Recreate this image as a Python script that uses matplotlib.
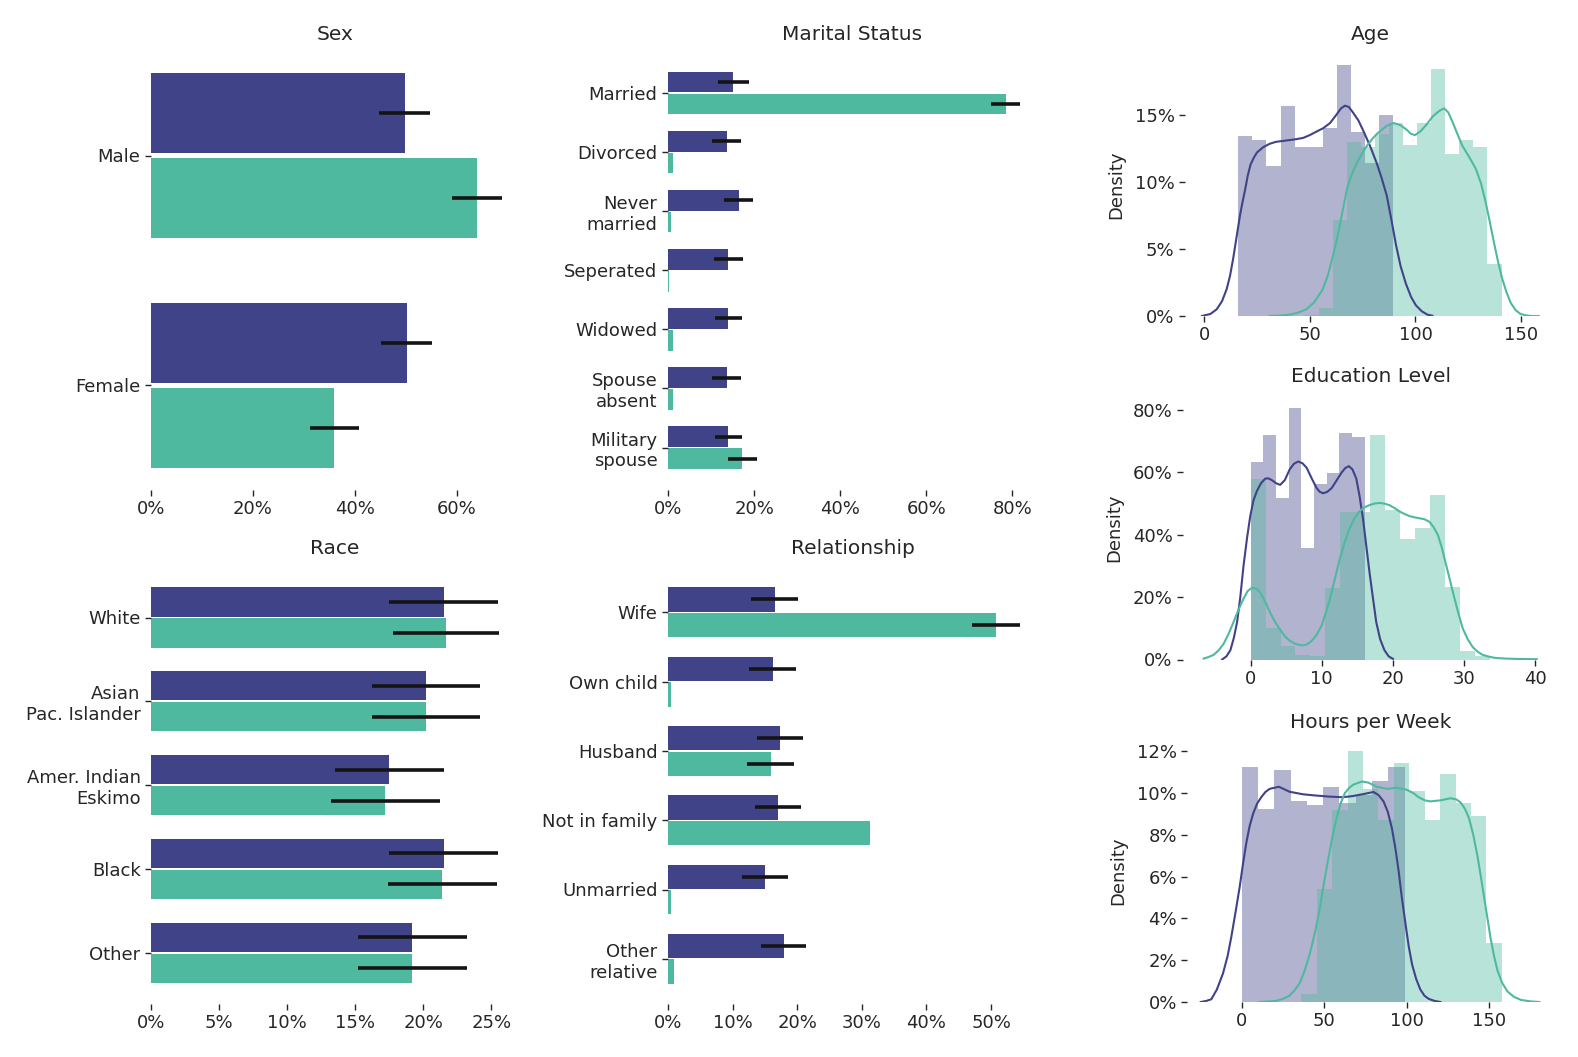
import matplotlib
matplotlib.use('Agg')
import matplotlib.pyplot as plt
from matplotlib.ticker import PercentFormatter
import numpy as np

W, H = 1578, 1057
PURPLE = '#404387'
GREEN = '#4fb99f'
TEXT = '#262626'

# ---------- bar panels (values in %) ----------
sex_labels = ['Male', 'Female']
sex_a = [49.8, 50.2]
sex_a_err = [5.0, 5.0]
sex_b = [64.0, 36.0]
sex_b_err = [4.9, 4.9]

marital_labels = ['Married', 'Divorced', 'Never\nmarried', 'Seperated', 'Widowed',
                  'Spouse\nabsent', 'Military\nspouse']
marital_a = [15.2, 13.6, 16.4, 14.0, 14.0, 13.6, 14.0]
marital_a_err = [3.5, 3.3, 3.3, 3.4, 3.2, 3.3, 3.2]
marital_b = [78.4, 1.2, 0.7, 0.3, 1.2, 1.2, 17.3]
marital_b_err = [3.3, 0, 0, 0, 0, 0, 3.4]

race_labels = ['White', 'Asian\nPac. Islander', 'Amer. Indian\nEskimo', 'Black', 'Other']
race_a = [21.5, 20.2, 17.5, 21.5, 19.2]
race_a_err = [4.0, 4.0, 4.0, 4.0, 4.0]
race_b = [21.7, 20.2, 17.2, 21.4, 19.2]
race_b_err = [3.9, 4.0, 4.0, 4.0, 4.0]

rel_labels = ['Wife', 'Own child', 'Husband', 'Not in family', 'Unmarried', 'Other\nrelative']
rel_a = [16.5, 16.2, 17.3, 17.0, 15.0, 17.9]
rel_a_err = [3.6, 3.6, 3.6, 3.6, 3.6, 3.5]
rel_b = [50.8, 0.4, 15.9, 31.3, 0.4, 0.9]
rel_b_err = [3.7, 0, 3.6, 0, 0, 0]

# ---------- density panels (values in %) ----------
age_a_start, age_a_width = 16.2, 6.67
age_a_hist = [13.4, 13.1, 11.2, 15.7, 12.6, 12.6, 14.0, 18.7, 13.7, 11.4, 15.0]
age_b_start, age_b_width = 47.6, 6.65
age_b_hist = [0.1, 0.6, 7.2, 13.0, 12.6, 13.6, 14.4, 12.8, 14.4, 18.4, 12.1, 13.1, 12.6, 3.9]
age_a_kde_x = [-1, 3, 6, 8.5, 10.7, 12.3, 13.8, 15.4, 17, 18.2, 19.4, 20.7, 22, 23.5, 25, 28,
               31, 34, 39, 43.7, 47, 50, 53, 56.2, 59.6, 62.5, 64.8, 66.7, 68.5, 70.4, 73,
               75.4, 78.5, 81.7, 84, 86.4, 88.6, 90.8, 93, 95.5, 98, 100.2, 103, 105.7, 108]
age_a_kde_y = [0.0, 0.15, 0.5, 1.1, 2.0, 3.0, 4.3, 5.9, 7.5, 8.5, 9.4, 10.5, 11.3, 11.8, 12.2, 12.6,
               12.85, 13.0, 13.1, 13.2, 13.3, 13.5, 13.75, 14.0, 14.4, 15.0, 15.5, 15.7, 15.6, 15.2, 14.6,
               13.8, 12.7, 11.4, 10.3, 9.0, 7.2, 5.3, 3.7, 2.4, 1.4, 0.8, 0.35, 0.1, 0.02]
age_b_kde_x = [31, 36, 40.5, 44.5, 48.4, 52, 56.2, 58.7, 61, 62.8, 64.5, 66, 67.5, 69.2, 71,
               73.2, 75.4, 77.5, 79.5, 81.5, 83.3, 86.5, 89.6, 92.8, 95.9, 97.8, 99.8, 102.5,
               105.3, 108.2, 111.2, 113.5, 115.5, 117.5, 119.8, 122.2, 125.3, 128.5, 131,
               133.2, 135.2, 137.1, 139, 141, 143, 145, 147.3, 149.7, 152.5, 155, 158.3]
age_b_kde_y = [0.0, 0.03, 0.1, 0.25, 0.5, 1.0, 2.0, 3.1, 4.5, 5.7, 7.0, 8.2, 9.4, 10.3, 11.0,
               11.7, 12.3, 12.8, 13.2, 13.55, 13.8, 14.2, 14.4, 14.25, 13.9, 13.6, 13.5, 13.8,
               14.3, 14.9, 15.3, 15.5, 15.2, 14.5, 13.6, 12.7, 11.9, 11.0, 9.9,
               8.5, 7.0, 5.5, 4.1, 2.8, 1.8, 1.0, 0.45, 0.15, 0.04, 0.0, 0.0]

edu_a_start, edu_a_width = 0.0, 1.78
edu_a_hist = [63.3, 72.0, 51.8, 80.5, 35.8, 56.4, 59.7, 72.5, 71.3]
edu_b_start, edu_b_width = 0.0, 2.1
edu_b_hist = [58.0, 10.0, 4.3, 1.5, 1.2, 22.8, 47.4, 47.4, 72.0, 48.0, 38.8, 42.2, 52.6, 23.3, 2.7, 1.0]
edu_a_kde_x = [-4.0, -3.4, -2.84, -2.35, -1.9, -1.45, -1.0, -0.5, -0.05, 0.4, 0.88, 1.45, 2.05,
               2.5, 3.0, 3.6, 4.15, 4.8, 5.5, 6.1, 6.7, 7.3, 7.87, 8.6, 9.27, 9.7, 10.2, 10.8,
               11.4, 12.1, 12.8, 13.3, 13.8, 14.3, 14.85, 15.3, 15.8, 16.25, 16.7, 17.2, 17.65,
               18.2, 18.8, 19.4, 20.0]
edu_a_kde_y = [0, 1.0, 3, 7, 12, 20, 30, 39, 46, 51, 54, 56.5, 58,
               58.1, 57.5, 56.5, 56, 57.5, 61, 62.8, 63.5, 62.9, 61.5, 58, 55, 53.8, 53.3, 53.8,
               55, 57.5, 60, 61.4, 62, 61, 58, 52.5, 45, 36.5, 28, 19.5, 12,
               6.5, 3, 1.0, 0.2]
edu_b_kde_x = [-6.6, -5.9, -5.2, -4.5, -3.8, -3.1, -2.4, -1.7, -1.0, -0.4, 0.2, 0.8, 1.35, 2.05,
               2.75, 3.45, 4.15, 4.8, 5.5, 6.3, 7.2, 7.9, 8.6, 9.3, 10.0, 10.5, 11.1, 11.8, 12.5,
               13.2, 13.9, 14.6, 15.3, 16.0, 16.7, 17.4, 18.1, 18.8, 19.5, 20.2, 20.9, 21.6,
               22.3, 23.0, 23.7, 24.4, 25.1, 25.7, 26.3, 26.85, 27.4, 28.0, 28.6, 29.2, 29.8,
               30.5, 31.2, 31.9, 32.6, 33.5, 34.4, 35.8, 37.2, 40.2]
edu_b_kde_y = [0.3, 0.8, 1.5, 2.9, 5, 8.2, 12, 16, 19.5, 22, 23, 22.7, 21.5, 18.5,
               15, 12, 9.5, 7.5, 6, 5, 4.5, 4.8, 6, 8.0, 11, 14.5, 19, 25.5, 32,
               37.5, 42, 45.3, 47.5, 48.8, 49.5, 50.0, 50.2, 50.0, 49.5, 48.6, 47.5, 46.7,
               46, 45.6, 45.3, 45.0, 44.2, 42.5, 40, 36, 31, 25.5, 20, 14.8, 10,
               6.5, 4, 2.5, 1.5, 0.9, 0.5, 0.3, 0.2, 0.1]

hours_a_start, hours_a_width = 0.0, 9.88
hours_a_hist = [11.24, 9.24, 11.08, 9.6, 9.42, 10.3, 9.5, 9.9, 10.56, 11.25]
hours_b_start, hours_b_width = 36.2, 9.35
hours_b_hist = [0.37, 5.4, 9.2, 12.0, 10.2, 8.7, 11.45, 10.1, 8.7, 10.9, 9.5, 8.9, 2.8]
hours_a_kde_x = [-24.8, -21.5, -18.4, -15, -11.3, -8.5, -6.3, -3.7, -1.2, 0.8, 2.8, 4.8, 6.9,
                 9.4, 11.9, 14.4, 17.0, 22.6, 29.1, 37.2, 45, 53, 61, 67, 73.8, 79.9, 83, 86,
                 88.6, 91.1, 93.1, 95.1, 97.1, 99.2, 101.2, 103.3, 105.8, 108.3, 110.8, 113.4,
                 117, 120.5]
hours_a_kde_y = [0, 0.05, 0.13, 0.6, 1.37, 2.2, 3.1, 4.3, 5.5, 6.6, 7.6, 8.4, 9.0,
                 9.5, 9.8, 10.05, 10.2, 10.3, 10.06, 9.94, 9.88, 9.83, 9.8, 9.85, 9.95, 10.05, 9.9, 9.6,
                 9.1, 8.3, 7.4, 6.3, 5.0, 3.8, 2.7, 1.8, 1.1, 0.6, 0.3, 0.15,
                 0.05, 0]
hours_b_kde_x = [10.8, 20.9, 25, 29, 32, 35.2, 38.2, 41.3, 44.4, 47.4, 49.9, 52.4, 55, 57.5, 60,
                 62.6, 65.2, 67.7, 72.8, 76.8, 81.9, 88, 94.1, 100.2, 104, 107.3, 111, 114.4,
                 120.5, 126.6, 130, 132.7, 135.3, 137.8, 140.4, 142.9, 145, 147, 149, 151, 153,
                 155.1, 158, 161.2, 165, 169.3, 175, 180.5]
hours_b_kde_y = [0, 0.05, 0.15, 0.3, 0.55, 0.9, 1.5, 2.3, 3.3, 4.5, 5.7, 6.8, 7.9, 8.8, 9.5,
                 10.0, 10.25, 10.4, 10.55, 10.5, 10.3, 10.2, 10.25, 10.15, 10.0, 9.8, 9.65, 9.6,
                 9.65, 9.75, 9.7, 9.55, 9.25, 8.8, 8.0, 7.0, 6.0, 5.0, 4.0, 3.0, 2.2,
                 1.5, 0.9, 0.5, 0.25, 0.1, 0.03, 0]


def px_axes(fig, left, top, right, bottom):
    # axes placed with pixel box of the final image
    return fig.add_axes([left / W, 1 - bottom / H, (right - left) / W, (bottom - top) / H])


def style(ax, title, top, title_base):
    for s in ax.spines.values():
        s.set_visible(False)
    ax.tick_params(length=4, width=1, color=TEXT, labelsize=13, labelcolor=TEXT)
    ax.set_title(title, fontsize=14.5, color=TEXT, pad=(top - title_base) * 0.72)


def bar_panel(fig, box, title, labels, a, a_err, b, b_err, xmax, xticks, first, step, title_base):
    left, top, right, bottom = box
    ax = px_axes(fig, left, top, right, bottom)
    n = len(labels)
    y = np.arange(n)
    ax.barh(y - 0.185, a, height=0.35, color=PURPLE, linewidth=0)
    ax.barh(y + 0.185, b, height=0.35, color=GREEN, linewidth=0)
    for vals, errs, off in ((a, a_err, -0.185), (b, b_err, 0.185)):
        for i in range(n):
            if errs[i] > 0:
                ax.plot([vals[i] - errs[i], vals[i] + errs[i]], [i + off, i + off],
                        color='0.08', lw=2.6, solid_capstyle='butt')
    ax.set_xlim(0, xmax)
    last = first + (n - 1) * step
    ax.set_ylim(n - 1 + (bottom - last) / step, -(first - top) / step)
    ax.set_yticks(y)
    ax.set_yticklabels(labels)
    ax.set_xticks(xticks)
    ax.xaxis.set_major_formatter(PercentFormatter(100, decimals=0))
    style(ax, title, top, title_base)
    return ax


def dens_panel(fig, box, title, xlim, ylim, xticks, yticks,
               a_start, a_width, a_hist, b_start, b_width, b_hist,
               akx, aky, bkx, bky, title_base):
    left, top, right, bottom = box
    ax = px_axes(fig, left, top, right, bottom)
    a_left = a_start + a_width * np.arange(len(a_hist))
    b_left = b_start + b_width * np.arange(len(b_hist))
    ax.bar(a_left, a_hist, width=a_width, align='edge', color=PURPLE, alpha=0.4, linewidth=0)
    ax.plot(akx, aky, color=PURPLE, lw=1.5)
    ax.bar(b_left, b_hist, width=b_width, align='edge', color=GREEN, alpha=0.4, linewidth=0)
    ax.plot(bkx, bky, color=GREEN, lw=1.5)
    ax.set_xlim(*xlim)
    ax.set_ylim(*ylim)
    ax.set_xticks(xticks)
    ax.set_yticks(yticks)
    ax.yaxis.set_major_formatter(PercentFormatter(100, decimals=0))
    ax.set_ylabel('Density', fontsize=13, color=TEXT, labelpad=7)
    style(ax, title, top, title_base)
    return ax


fig = plt.figure(figsize=(W / 100, H / 100), dpi=100)

bar_panel(fig, (151, 50, 518.5, 490), 'Sex', sex_labels, sex_a, sex_a_err, sex_b, sex_b_err,
          72.1, [0, 20, 40, 60], 155.5, 230, 40)
bar_panel(fig, (668, 50, 1037, 490), 'Marital Status', marital_labels, marital_a, marital_a_err,
          marital_b, marital_b_err, 85.7, [0, 20, 40, 60, 80], 93, 59.1, 40)
bar_panel(fig, (151, 563, 518.5, 1004), 'Race', race_labels, race_a, race_a_err, race_b, race_b_err,
          27.0, [0, 5, 10, 15, 20, 25], 617.5, 83.8, 553.5)
bar_panel(fig, (668, 563, 1037, 1004), 'Relationship', rel_labels, rel_a, rel_a_err, rel_b, rel_b_err,
          57.1, [0, 10, 20, 30, 40, 50], 612.3, 69.3, 553.5)

dens_panel(fig, (1185, 53.4, 1555, 316), 'Age', (-9, 166), (0, 19.6), [0, 50, 100, 150], [0, 5, 10, 15],
           age_a_start, age_a_width, age_a_hist, age_b_start, age_b_width, age_b_hist,
           age_a_kde_x, age_a_kde_y, age_b_kde_x, age_b_kde_y, 40)
dens_panel(fig, (1183, 396, 1559.5, 659.5), 'Education Level', (-9.5, 43.4), (0, 84.5),
           [0, 10, 20, 30, 40], [0, 20, 40, 60, 80],
           edu_a_start, edu_a_width, edu_a_hist, edu_b_start, edu_b_width, edu_b_hist,
           edu_a_kde_x, edu_a_kde_y, edu_b_kde_x, edu_b_kde_y, 382)
dens_panel(fig, (1187.2, 738.7, 1555.1, 1002), 'Hours per Week', (-33, 190), (0, 12.6),
           [0, 50, 100, 150], [0, 2, 4, 6, 8, 10, 12],
           hours_a_start, hours_a_width, hours_a_hist, hours_b_start, hours_b_width, hours_b_hist,
           hours_a_kde_x, hours_a_kde_y, hours_b_kde_x, hours_b_kde_y, 727.5)

fig.savefig('out.png', dpi=100)
